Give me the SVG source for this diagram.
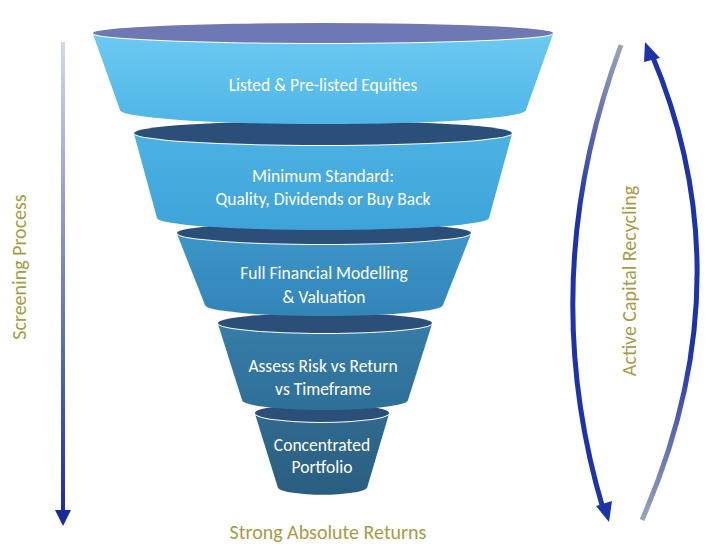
<svg xmlns="http://www.w3.org/2000/svg" width="720" height="560" viewBox="0 0 720 560">
<style>
.t{font-family:"Carlito","Liberation Sans",sans-serif;fill:#fff;font-size:17.5px;text-anchor:middle}
.o{font-family:"Carlito","Liberation Sans",sans-serif;fill:#a99a45;font-size:20px;text-anchor:middle}
.rim{fill:#2c4f7a}
</style>
<defs>
<linearGradient id="la" gradientUnits="userSpaceOnUse" x1="0" y1="42" x2="0" y2="520"><stop offset="0" stop-color="#d4d7ea"/><stop offset="1" stop-color="#1a2a9a"/></linearGradient>
<linearGradient id="ra" gradientUnits="userSpaceOnUse" x1="0" y1="45" x2="0" y2="520"><stop offset="0" stop-color="#9aa3b8"/><stop offset="0.35" stop-color="#1f33a8"/><stop offset="1" stop-color="#1f33a8"/></linearGradient>
<linearGradient id="rb" gradientUnits="userSpaceOnUse" x1="0" y1="520" x2="0" y2="45"><stop offset="0" stop-color="#9aa3b8"/><stop offset="0.35" stop-color="#1f33a8"/><stop offset="1" stop-color="#1f33a8"/></linearGradient>
<linearGradient id="g1" x1="0" y1="0" x2="0" y2="1"><stop offset="0" stop-color="#6ccaf2"/><stop offset="1" stop-color="#4fb5e6"/></linearGradient>
<linearGradient id="g2" x1="0" y1="0" x2="0" y2="1"><stop offset="0" stop-color="#4cb1e2"/><stop offset="1" stop-color="#3ea3d8"/></linearGradient>
<linearGradient id="g3" x1="0" y1="0" x2="0" y2="1"><stop offset="0" stop-color="#3c95c8"/><stop offset="1" stop-color="#3385b8"/></linearGradient>
<linearGradient id="g4" x1="0" y1="0" x2="0" y2="1"><stop offset="0" stop-color="#357da8"/><stop offset="1" stop-color="#2f6f98"/></linearGradient>
<linearGradient id="g5" x1="0" y1="0" x2="0" y2="1"><stop offset="0" stop-color="#306a90"/><stop offset="1" stop-color="#2a5e80"/></linearGradient>
</defs>
<g id="connectors">
<path d="M63 42 V512" stroke="url(#la)" stroke-width="4" fill="none"/>
<polygon points="55,510 71,510 63,526" fill="#1a2a9a"/>
<path d="M621 45 Q534 280 604 512" stroke="url(#ra)" stroke-width="5" fill="none"/>
<polygon points="596,506 612,501 609,522" fill="#1f33a8"/>
<path d="M642 520 Q747 280 652 55" stroke="url(#rb)" stroke-width="5" fill="none"/>
<polygon points="644,62 660,58 645,42" fill="#1f33a8"/>
</g>
<g id="tier5">
<ellipse cx="322" cy="413" rx="67" ry="9" class="rim"/>
<path d="M255 414 L278 488 A45 8 0 0 0 367 488 L389 414 A67 9 0 0 1 255 414Z" fill="url(#g5)"/>
<text class="t" x="322" y="451">Concentrated</text><text class="t" x="322" y="473">Portfolio</text>
</g>
<g id="tier4">
<ellipse cx="325" cy="323" rx="107" ry="10" class="rim"/>
<path d="M218 324 L242 400 A83 10 0 0 0 408 400 L432 324 A107 10 0 0 1 218 324Z" fill="url(#g4)"/>
<text class="t" x="323" y="372">Assess Risk vs Return</text><text class="t" x="323" y="395">vs Timeframe</text>
</g>
<g id="tier3">
<ellipse cx="324" cy="233" rx="147" ry="11" class="rim"/>
<path d="M177 234 L205 305 A119 11 0 0 0 443 305 L471 234 A147 11 0 0 1 177 234Z" fill="url(#g3)"/>
<text class="t" x="324" y="279">Full Financial Modelling</text><text class="t" x="324" y="303">&amp; Valuation</text>
</g>
<g id="tier2">
<ellipse cx="323" cy="133" rx="189" ry="12" class="rim"/>
<path d="M134 134 L157 218 A166 12 0 0 0 489 218 L512 134 A189 12 0 0 1 134 134Z" fill="url(#g2)"/>
<text class="t" x="323" y="182">Minimum Standard:</text><text class="t" x="323" y="205">Quality, Dividends or Buy Back</text>
</g>
<g id="tier1">
<ellipse cx="323" cy="33" rx="230" ry="10" fill="#6e79b4"/>
<path d="M93 34 L120 110 A203 14 0 0 0 526 110 L553 34 A230 10 0 0 1 93 34Z" fill="url(#g1)"/>
<text class="t" x="323" y="91">Listed &amp; Pre-listed Equities</text>
</g>
<text class="o" transform="translate(26 267) rotate(-90)">Screening Process</text>
<text class="o" transform="translate(636 281) rotate(-90)">Active Capital Recycling</text>
<text class="o" x="328" y="539">Strong Absolute Returns</text>
</svg>
